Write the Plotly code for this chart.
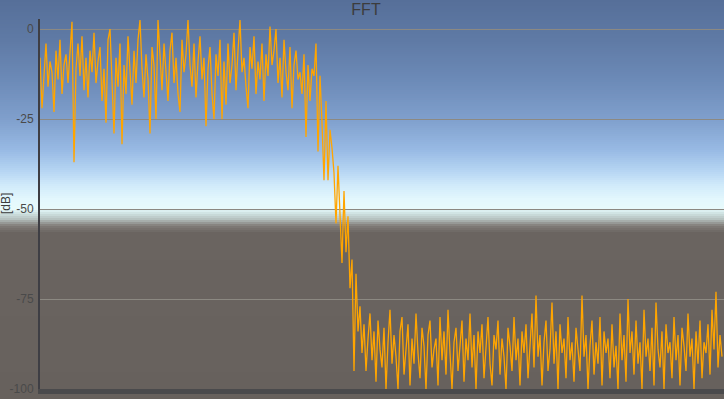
import plotly.graph_objects as go

# ---------------- data ----------------
title_text = "FFT"
y_label = "[dB]"
series_name = "FFT"

high_band = [
    -8, -22, -13, -4, -16, -9, -12, -23, -6, -14,
    -3, -18, -10, -7, -15, -5, 2, -37, -11, -4,
    -13, -2, -17, -8, -19, -6, -12, -1, -15, -9,
    -5, -20, -11, -26, -3, 0, -14, -29, -8, -16,
    -4, -32, -10, -18, -2, -12, -21, -6, -15, -3,
    2.5, -11, -19, -7, -14, -29, -5, -10, -25, 2.5,
    -9, -17, -4, -13, -20, -6, -1, -15, -8, -18,
    -23, -3, -12, -7, 2.5, -10, -16, -4, -19, -9,
    -2, -14, -8, -27, -11, -5, -18, -25, -7, -13,
    -3, -25, -9, -21, -4, -15, -10, -1, -17, -6,
    2.5, -12, -8, -16, -22, -5, -11, -2, -18, -9,
    -14, -4, -20, -7, -13, 0.7, -10, -6, 0, -15,
    -8, -19, -3, -12, -17, -5, -22, -10, -6, -14,
    -12, -18, -7, -30, -10, -20, -11,
]

transition = [
    -13, -4, -34, -13, -26, -42, -20, -42, -28, -33,
    -40, -54, -38, -51, -65, -45, -62, -52, -72, -64, -95,
]

noise_floor = [
    -68, -84, -77, -90, -82, -95, -86, -79, -92, -84,
    -98, -81, -89, -94, -83, -100, -87, -78, -93, -85,
    -91, -100, -84, -80, -96, -88, -82, -99, -86, -93,
    -79, -90, -97, -83, -88, -100, -85, -81, -94, -89,
    -86, -99, -80, -92, -84, -96, -78, -90, -100, -87,
    -83, -95, -88, -81, -98, -86, -92, -79, -94, -85,
    -100, -84, -90, -82, -97, -87, -80, -93, -99, -85,
    -89, -81, -96, -86, -91, -100, -83, -88, -95, -80,
    -92, -86, -99, -84, -90, -82, -97, -88, -79, -94,
    -74, -91, -85, -99, -87, -81, -95, -89, -76, -93,
    -84, -100, -82, -90, -86, -97, -80, -92, -87, -98,
    -83, -89, -95, -74, -91, -85, -100, -88, -81, -96,
    -87, -93, -80, -99, -84, -90, -86, -97, -82, -94,
    -88, -100, -79, -92, -85, -98, -75, -90, -84, -96,
    -81, -93, -87, -100, -78, -91, -86, -95, -83, -99,
    -76, -89, -94, -84, -100, -82, -90, -87, -97, -80,
    -92, -85, -99, -83, -88, -95, -79, -91, -86, -100,
    -84, -93, -81, -97, -87, -90, -82, -96, -78, -89,
    -73, -94, -85, -91,
]

magnitude_db = high_band + transition + noise_floor
bins = list(range(len(magnitude_db)))
y_ticks = [0, -25, -50, -75, -100]
y_tick_labels = ["0", "-25", "-50", "-75", "-100"]

# ---------------- styling ----------------
W, H = 724, 399
M_L, M_R, M_T, M_B = 40, 0, 19, 10
PLOT_H = H - M_T - M_B
PLOT_W = W - M_L - M_R

# sky / ground background colour stops (pixel row, rgb)
bg_stops = [
    (0, (86, 111, 153)),
    (40, (95, 122, 165)),
    (80, (108, 138, 183)),
    (120, (128, 160, 205)),
    (150, (152, 186, 228)),
    (170, (180, 212, 242)),
    (185, (208, 234, 250)),
    (200, (228, 248, 253)),
    (209, (232, 250, 252)),
    (212, (214, 234, 234)),
    (219, (182, 194, 192)),
    (226, (128, 123, 119)),
    (233, (106, 100, 96)),
    (399, (103, 97, 93)),
]


def bg_color(py):
    for (y0, c0), (y1, c1) in zip(bg_stops[:-1], bg_stops[1:]):
        if y0 <= py <= y1:
            t = (py - y0) / (y1 - y0) if y1 > y0 else 0
            return "rgb(%d,%d,%d)" % tuple(round(a + (b - a) * t) for a, b in zip(c0, c1))
    return "rgb(%d,%d,%d)" % bg_stops[-1][1]


def py_to_paper(py):
    return (H - M_B - py) / PLOT_H


shapes = []
step = 2
for py in range(0, H, step):
    shapes.append(dict(
        type="rect", xref="paper", yref="paper", layer="below",
        x0=-M_L / PLOT_W - 0.01, x1=1.01,
        y0=py_to_paper(py + step), y1=py_to_paper(py),
        fillcolor=bg_color(py + step / 2), line=dict(width=0),
    ))

fig = go.Figure()
fig.add_trace(go.Scatter(
    x=bins, y=magnitude_db, mode="lines", name=series_name,
    line=dict(color="rgb(255,165,0)", width=1.3),
))

fig.add_annotation(
    text=y_label, textangle=-90, xref="paper", yref="paper",
    x=-34 / PLOT_W, y=0.5, xanchor="center", yanchor="middle",
    showarrow=False, font=dict(size=12, color="#3c3c3c"),
)

fig.update_layout(
    width=W, height=H,
    margin=dict(l=M_L, r=M_R, t=M_T, b=M_B, autoexpand=False),
    paper_bgcolor="rgb(103,97,93)",
    plot_bgcolor="rgba(0,0,0,0)",
    shapes=shapes,
    font=dict(family="Liberation Sans, Arial, sans-serif", size=12, color="#4a4a4a"),
    title=dict(text=title_text, x=366 / W, xref="container", xanchor="center",
               y=1 - 9.5 / H, yref="container", yanchor="middle",
               font=dict(size=16, color="#3c3c3c")),
    showlegend=True,
    legend=dict(orientation="h", x=(362 - M_L) / PLOT_W, xanchor="center",
                y=-0.008, yanchor="top", bgcolor="rgba(0,0,0,0)",
                font=dict(size=12, color="#3c3c3c")),
    xaxis=dict(range=[0, len(magnitude_db)], showgrid=False, zeroline=False,
               showticklabels=False, ticks="",
               showline=True, linecolor="rgb(74,74,76)", linewidth=5),
    yaxis=dict(range=[-100, 2.8], tickvals=y_ticks, ticktext=y_tick_labels,
               showgrid=True, gridcolor="rgb(140,137,130)", gridwidth=1, zeroline=False,
               showline=True, linecolor="rgb(62,62,68)", linewidth=2,
               ticks="outside", ticklen=2, tickcolor="rgba(0,0,0,0)",
               tickfont=dict(size=12, color="#4a4a4a")),
)

fig.write_html("out.html")
